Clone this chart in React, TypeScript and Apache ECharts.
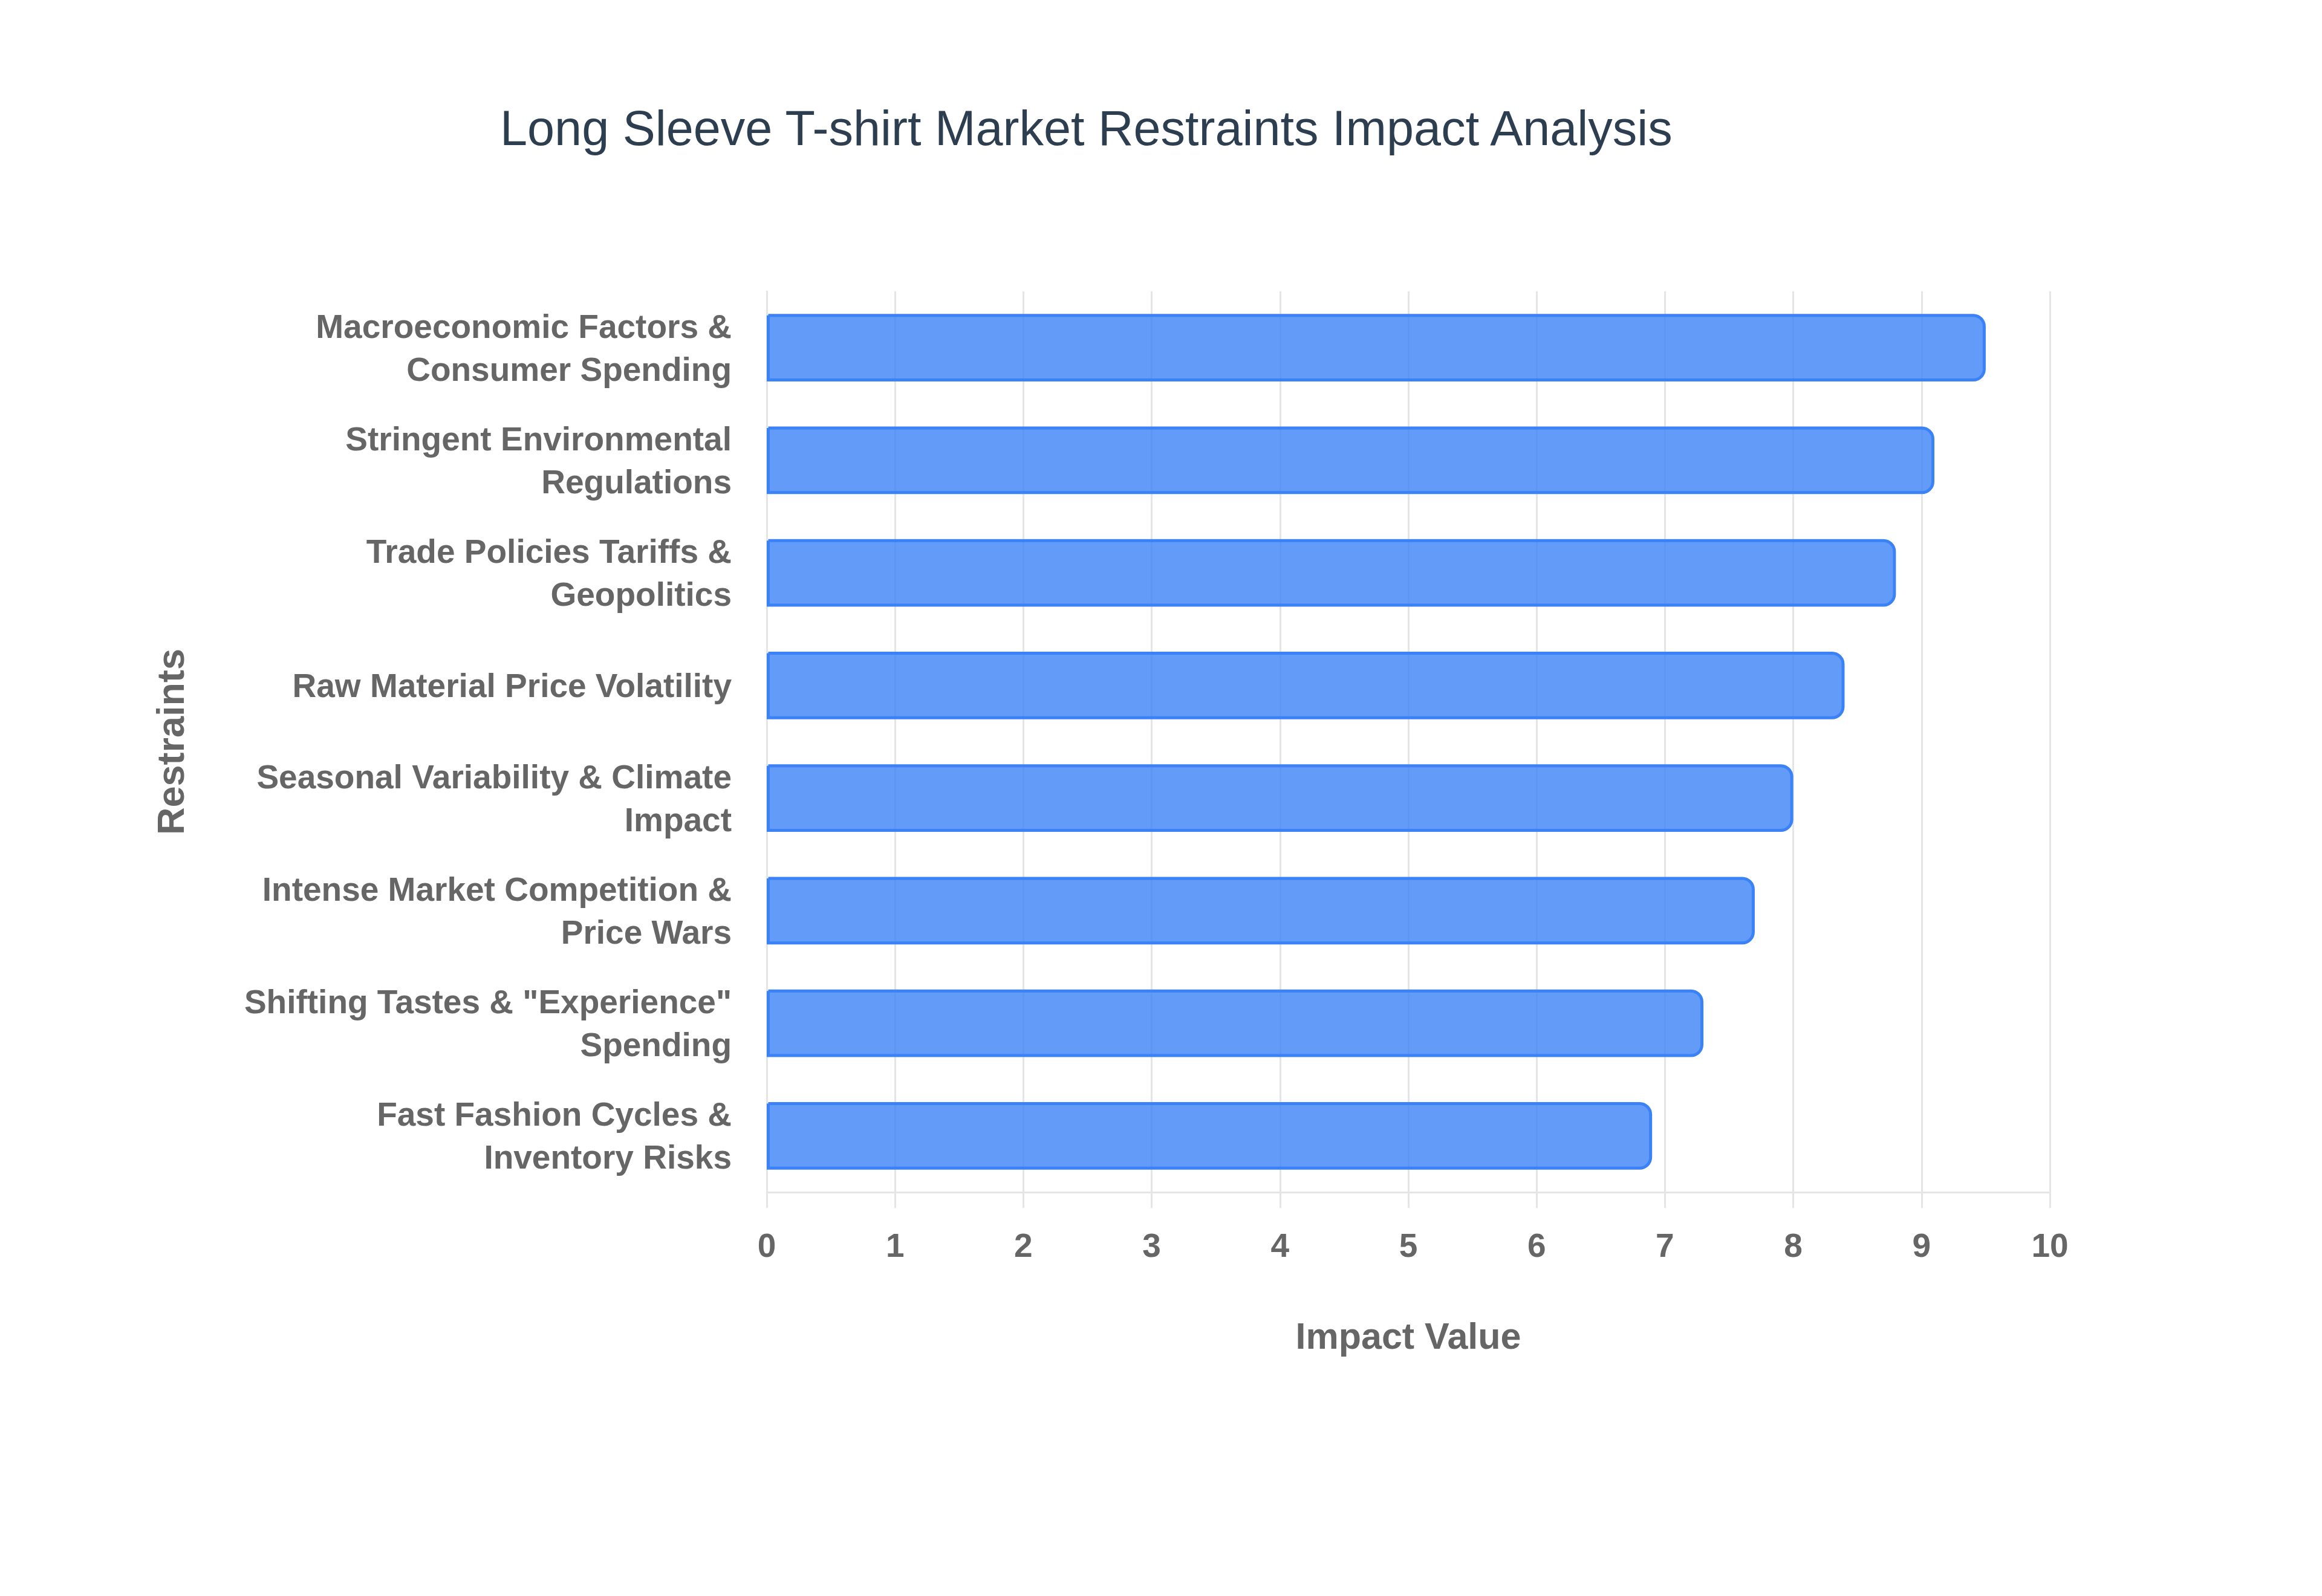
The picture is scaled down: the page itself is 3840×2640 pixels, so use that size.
import { useEffect, useRef } from 'react';
import * as echarts from 'echarts';

// 类别（自上而下）
const restraints = [
  'Macroeconomic Factors &\nConsumer Spending',
  'Stringent Environmental\nRegulations',
  'Trade Policies Tariffs &\nGeopolitics',
  'Raw Material Price Volatility',
  'Seasonal Variability & Climate\nImpact',
  'Intense Market Competition &\nPrice Wars',
  'Shifting Tastes & "Experience"\nSpending',
  'Fast Fashion Cycles &\nInventory Risks'
];

// 影响值
const impactValues = [9.5, 9.1, 8.8, 8.4, 8.0, 7.7, 7.3, 6.9];

// x 轴刻度
const axisMin = 0;
const axisMax = 10;
const axisStep = 1;

const gridColor = '#e5e5e5';
const labelColor = '#666666';
const fontFamily = '"Liberation Sans", Arial, sans-serif';

const App = () => {
  const chartRef = useRef<HTMLDivElement>(null);

  useEffect(() => {
    if (!chartRef.current) return;
    document.body.style.margin = '0';

    const chart = echarts.init(chartRef.current, undefined, { renderer: 'svg' });

    const option: echarts.EChartsOption = {
      animation: false,
      backgroundColor: '#ffffff',
      title: {
        text: 'Long Sleeve T-shirt Market Restraints Impact Analysis',
        left: 822,
        top: 166,
        textStyle: {
          fontFamily,
          fontSize: 81,
          fontWeight: 'normal',
          color: '#2c3e50'
        }
      },
      grid: {
        left: 1268,
        right: 450,
        top: 482,
        bottom: 668
      },
      xAxis: {
        type: 'value',
        min: axisMin,
        max: axisMax,
        interval: axisStep,
        name: 'Impact Value',
        nameLocation: 'middle',
        nameGap: 207,
        nameTextStyle: {
          fontFamily,
          fontSize: 61,
          fontWeight: 'bold',
          color: labelColor
        },
        axisLine: { show: true, lineStyle: { color: gridColor, width: 3 } },
        axisTick: { show: true, length: 26, lineStyle: { color: gridColor, width: 3 } },
        splitLine: { show: true, lineStyle: { color: gridColor, width: 3 } },
        axisLabel: {
          margin: 60,
          fontFamily,
          fontSize: 55,
          fontWeight: 'bold',
          color: labelColor
        }
      },
      yAxis: {
        type: 'category',
        inverse: true,
        data: restraints,
        name: 'Restraints',
        nameLocation: 'middle',
        nameGap: 955,
        nameRotate: 90,
        nameTextStyle: {
          fontFamily,
          fontSize: 63,
          fontWeight: 'bold',
          color: labelColor
        },
        axisLine: { show: true, lineStyle: { color: gridColor, width: 3 } },
        axisTick: { show: false },
        splitLine: { show: false },
        axisLabel: {
          margin: 58,
          fontFamily,
          fontSize: 55,
          lineHeight: 71,
          fontWeight: 'bold',
          color: labelColor,
          align: 'right'
        }
      },
      series: [
        {
          type: 'bar',
          data: impactValues,
          barCategoryGap: '40%',
          itemStyle: {
            color: 'rgba(59, 130, 246, 0.8)',
            borderColor: '#3b82f6',
            borderWidth: 5,
            borderRadius: [0, 18, 18, 0]
          }
        }
      ]
    };

    chart.setOption(option);

    return () => {
      chart.dispose();
    };
  }, []);

  return <div ref={chartRef} style={{ width: '3840px', height: '2640px' }} />;
};

export default App;
